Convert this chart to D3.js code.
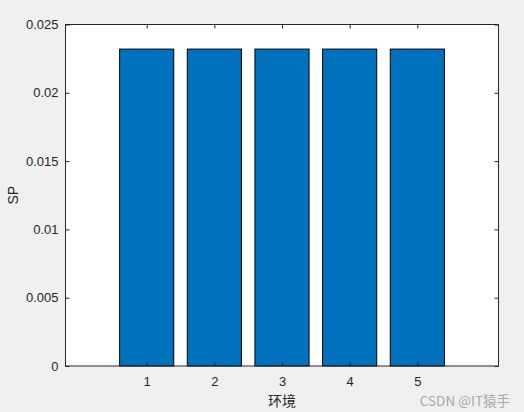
<!DOCTYPE html>
<html>
<head>
<meta charset="utf-8">
<script src="https://cdnjs.cloudflare.com/ajax/libs/d3/7.8.5/d3.min.js"></script>
<style>
  body { margin: 0; background: #f0f0f0; }
  svg { display: block; font-family: "Liberation Sans", Arial, sans-serif; }
</style>
</head>
<body>
<div id="chart-area"></div>
<script>
// data
var categories = [1, 2, 3, 4, 5]
var spValues = [0.0232, 0.0232, 0.0232, 0.0232, 0.0232]
var yTicks = [0, 0.005, 0.01, 0.015, 0.02, 0.025]
var yTickLabels = ["0", "0.005", "0.01", "0.015", "0.02", "0.025"]
var xLabel = "环境"
var yLabel = "SP"

var svgWidth = 524, svgHeight = 412
var margin = {top: 24.5, right: 25.5, bottom: 46, left: 65.5}
var chartWidth = svgWidth - margin.left - margin.right
var chartHeight = svgHeight - margin.top - margin.bottom
var axisColor = "#262626"

var svg = d3.select("#chart-area").append("svg")
    .attr("width", svgWidth)
    .attr("height", svgHeight)

var chartGroup = svg.append("g")
    .attr("transform", `translate(${margin.left},${margin.top})`)

chartGroup.append("rect")
    .attr("width", chartWidth)
    .attr("height", chartHeight)
    .attr("fill", "#ffffff")

var xScale = d3.scaleLinear().domain([-0.2, 6.2]).range([0, chartWidth])
var yScale = d3.scaleLinear().domain([0, 0.025]).range([chartHeight, 0])
var barW = xScale(0.8) - xScale(0)

chartGroup.selectAll(".bar")
    .data(spValues)
    .enter().append("rect")
    .attr("class", "bar")
    .attr("x", (d, i) => xScale(categories[i]) - barW / 2)
    .attr("width", barW)
    .attr("y", d => yScale(d))
    .attr("height", d => chartHeight - yScale(d))
    .attr("fill", "#0072bd")
    .attr("stroke", "#000")
    .attr("stroke-width", 1)

function styleAxis(g) {
    g.select(".domain").remove()
    g.selectAll("line").attr("stroke", axisColor)
    g.selectAll("text").attr("fill", axisColor).attr("font-size", "13px")
}

// bottom axis, ticks point inward
chartGroup.append("g")
    .attr("transform", `translate(0,${chartHeight})`)
    .call(d3.axisBottom(xScale).tickValues(categories).tickFormat(d3.format("d"))
        .tickSizeInner(-4).tickSizeOuter(0).tickPadding(11))
    .call(styleAxis)

chartGroup.append("g")
    .call(d3.axisTop(xScale).tickValues(categories).tickFormat("")
        .tickSizeInner(-4).tickSizeOuter(0))
    .call(styleAxis)

chartGroup.append("g")
    .call(d3.axisLeft(yScale).tickValues(yTicks).tickFormat((d, i) => yTickLabels[i])
        .tickSizeInner(-4).tickSizeOuter(0).tickPadding(7))
    .call(styleAxis)

chartGroup.append("g")
    .attr("transform", `translate(${chartWidth},0)`)
    .call(d3.axisRight(yScale).tickValues(yTicks).tickFormat("")
        .tickSizeInner(-4).tickSizeOuter(0))
    .call(styleAxis)

// box
chartGroup.append("rect")
    .attr("width", chartWidth)
    .attr("height", chartHeight)
    .attr("fill", "none")
    .attr("stroke", axisColor)
    .attr("stroke-width", 1)

svg.append("text")
    .attr("x", margin.left + xScale(3))
    .attr("y", 406)
    .attr("text-anchor", "middle")
    .attr("font-size", "14px")
    .attr("fill", axisColor)
    .attr("font-family", "'Noto Sans CJK SC', sans-serif")
    .text(xLabel)

svg.append("text")
    .attr("transform", `translate(18,${margin.top + chartHeight / 2}) rotate(-90)`)
    .attr("text-anchor", "middle")
    .attr("font-size", "14px")
    .attr("fill", axisColor)
    .text(yLabel)

svg.append("text")
    .attr("x", 510)
    .attr("y", 406)
    .attr("text-anchor", "end")
    .attr("font-size", "13.5px")
    .attr("fill", "#a8a8a8")
    .attr("font-family", "'Noto Sans CJK SC', sans-serif")
    .text("CSDN @IT猿手")
</script>
</body>
</html>
